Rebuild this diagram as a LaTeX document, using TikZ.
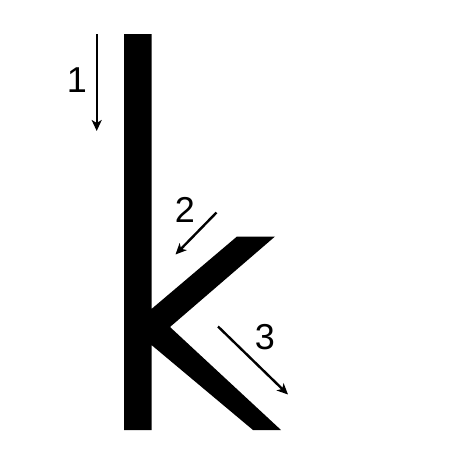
\documentclass[tikz,border=0pt]{standalone}
\usepackage{fontspec}
\setmainfont{Liberation Sans}
\usetikzlibrary{arrows.meta}
\begin{document}
\begin{tikzpicture}[x=1pt,y=-1pt,
  strokearrow/.style={line width=2.4pt,-{Stealth[length=11pt,width=10pt,inset=3pt]}},
  numlabel/.style={font=\fontsize{36}{36}\selectfont,inner sep=0pt}]
\useasboundingbox[fill=white] (0,0) rectangle (450,450);
% letter k
\fill[black] (124,34) -- (151.5,34) -- (151.5,309) -- (237,236.5) -- (275,236.5)
  -- (170,327) -- (281,430) -- (253,430) -- (151.5,345) -- (151.5,430)
  -- (124,430) -- cycle;
% arrows
\coordinate (a1s) at (96.7,34);
\coordinate (a1e) at (96.7,131);
\coordinate (a2s) at (216.5,212.5);
\coordinate (a2e) at (175.5,254.5);
\coordinate (a3s) at (218,326.5);
\coordinate (a3e) at (288,394.5);
\draw[strokearrow] (a1s) -- (a1e);
\draw[strokearrow] (a2s) -- (a2e);
\draw[strokearrow] (a3s) -- (a3e);
% labels
\node[numlabel] (l1) at (77,80.5) {1};
\node[numlabel] (l2) at (185,210) {2};
\node[numlabel] (l3) at (265,337.5) {3};
\end{tikzpicture}
\end{document}
